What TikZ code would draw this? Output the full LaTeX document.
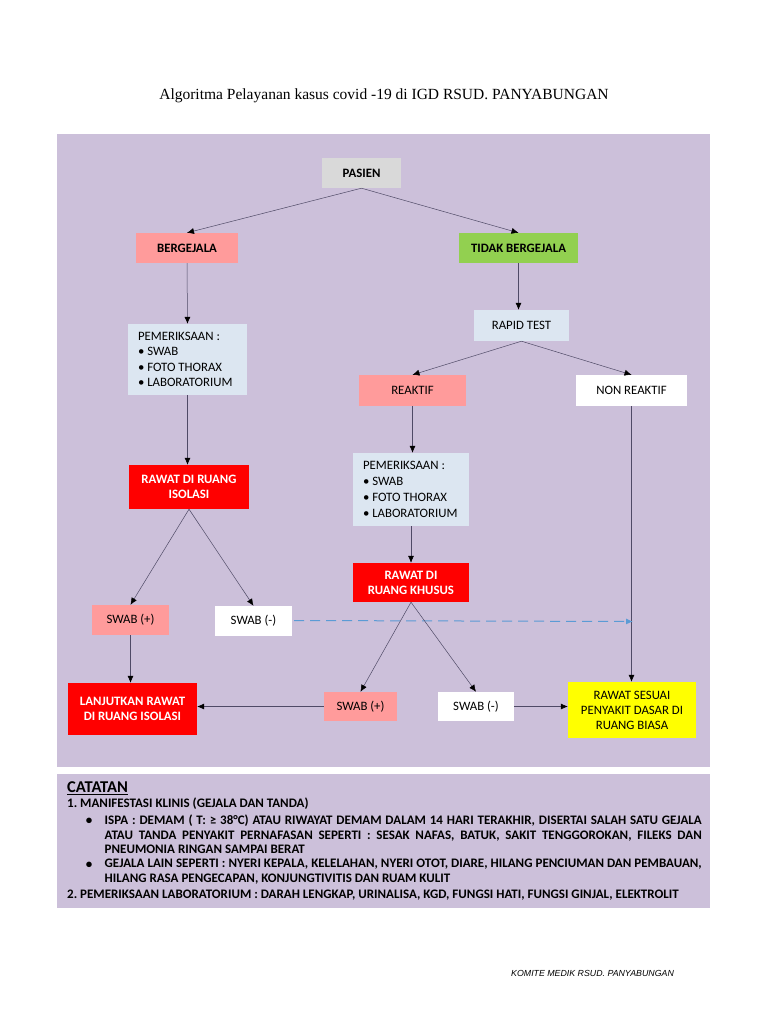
\documentclass[tikz,border=0pt]{standalone}
\usepackage{fontspec}
\setmainfont{Carlito}
\newfontfamily\titlefont{Liberation Serif}
\newfontfamily\footfont{Liberation Sans}
\usetikzlibrary{arrows.meta}
\definecolor{panel}{HTML}{CCC0DA}
\definecolor{pinkbox}{HTML}{FF9B9B}
\definecolor{greenbox}{HTML}{92D050}
\definecolor{greybox}{HTML}{D9D9D9}
\definecolor{bluebox}{HTML}{DCE6F1}
\definecolor{redbox}{HTML}{FF0000}
\definecolor{yellowbox}{HTML}{FFFF00}
\definecolor{linec}{HTML}{4F4A66}
\definecolor{dashc}{HTML}{5B9BD5}
\hyphenpenalty=10000
\exhyphenpenalty=10000
\frenchspacing
\begin{document}
\begin{tikzpicture}[x=1pt,y=-1pt,
  box/.style={inner sep=0pt, align=center, font=\fontsize{12.8}{15}\selectfont},
  bbox/.style={box, font=\bfseries\fontsize{12.8}{15}\selectfont},
  redb/.style={bbox, fill=redbox, text=white},
  arr/.style={draw=linec, line width=0.5pt, -{Latex[length=7pt,width=6pt,color=black]}},
  note/.style={inner sep=0pt, font=\bfseries\fontsize{13}{14.8}\selectfont},
]
\useasboundingbox (0,0) rectangle (768,1024);
\fill[white] (0,0) rectangle (768,1024);
\node[font=\titlefont\fontsize{15.5}{18}\selectfont] (title) at (384,96) {Algoritma Pelayanan kasus covid -19 di IGD RSUD. PANYABUNGAN};
\fill[panel] (57,134) rectangle (710,767);
\fill[panel] (57,774) rectangle (710,908);

% nodes
\node[bbox, fill=greybox, minimum width=79, minimum height=30] (pasien) at (361.5,173) {PASIEN};
\node[bbox, fill=pinkbox, minimum width=102, minimum height=30] (berg) at (187,248) {BERGEJALA};
\node[bbox, fill=greenbox, minimum width=119, minimum height=30] (tidak) at (518.5,248) {TIDAK BERGEJALA};
\node[box, fill=bluebox, minimum width=119, minimum height=71, align=flush left, text width=99, inner xsep=10pt, font=\fontsize{12.8}{15.3}\selectfont] (pem1) at (187.5,359.5) {PEMERIKSAAN :\\ \textbullet\ SWAB\\ \textbullet\ FOTO THORAX\\ \textbullet\ LABORATORIUM};
\node[box, fill=bluebox, minimum width=95, minimum height=31] (rapid) at (521.5,325.5) {RAPID TEST};
\node[box, fill=pinkbox, minimum width=107, minimum height=31] (reak) at (412.5,390.5) {REAKTIF};
\node[box, fill=white, minimum width=111, minimum height=31] (nonr) at (631.5,390.5) {NON REAKTIF};
\node[redb, minimum width=120, minimum height=44] (iso) at (189,487) {RAWAT DI RUANG\\ISOLASI};
\node[box, fill=bluebox, minimum width=116, minimum height=73, align=flush left, text width=96, inner xsep=10pt, font=\fontsize{12.8}{16}\selectfont] (pem2) at (411,489.5) {PEMERIKSAAN :\\ \textbullet\ SWAB\\ \textbullet\ FOTO THORAX\\ \textbullet\ LABORATORIUM};
\node[redb, minimum width=116, minimum height=39] (khusus) at (411,582.5) {RAWAT DI\\RUANG KHUSUS};
\node[box, fill=pinkbox, minimum width=77, minimum height=30] (sp1) at (130.5,620) {SWAB (+)};
\node[box, fill=white, minimum width=77, minimum height=30] (sm1) at (253.5,621) {SWAB (-)};
\node[redb, minimum width=129, minimum height=52] (lanj) at (132.5,709) {LANJUTKAN RAWAT\\DI RUANG ISOLASI};
\node[box, fill=pinkbox, minimum width=73, minimum height=29] (sp2) at (360.5,706.5) {SWAB (+)};
\node[box, fill=white, minimum width=76, minimum height=29] (sm2) at (476,706.5) {SWAB (-)};
\node[box, fill=yellowbox, minimum width=128, minimum height=56] (ses) at (632,710) {RAWAT SESUAI\\PENYAKIT DASAR DI\\RUANG BIASA};
\coordinate (dashend) at (633,621.5);

% connectors
\draw[arr] (pasien.south) -- (berg.north);
\draw[arr] (pasien.south) -- (tidak.north);
\draw[arr] (berg.south) -- (pem1.north);
\draw[arr] (tidak.south) -- (tidak.south |- rapid.north);
\draw[arr] (rapid.south) -- (reak.north);
\draw[arr] (rapid.south) -- (nonr.north);
\draw[arr] (pem1.south) -- (pem1.south |- iso.north);
\draw[arr] (reak.south) -- (reak.south |- pem2.north);
\draw[arr] (nonr.south) -- (nonr.south |- ses.north);
\draw[arr] (pem2.south) -- (khusus.north);
\draw[arr] (iso.south) -- (sp1.north);
\draw[arr] (iso.south) -- (sm1.north);
\draw[arr] (sp1.south) -- (sp1.south |- lanj.north);
\draw[draw=dashc, line width=1pt, dash pattern=on 10pt off 6pt, -{Latex[length=7pt,width=6pt]}] ([xshift=2pt,yshift=0.5pt]sm1.east) -- (dashend);
\draw[arr] (khusus.south) -- (sp2.north);
\draw[arr] (khusus.south) -- (sm2.north);
\draw[arr] (sp2.west) -- (lanj.east |- sp2.west);
\draw[arr] (sm2.east) -- (ses.west |- sm2.east);

% catatan
\node[anchor=west, inner sep=0pt, font=\bfseries\fontsize{16.5}{18}\selectfont] (cat) at (67,788) {\underline{CATATAN}};
\node[note, anchor=west] (c1) at (67,804) {1. MANIFESTASI KLINIS (GEJALA DAN TANDA)};
\node[note] (b1) at (89,821) {\textbullet};
\node[note, anchor=north west, text width=597, align=justify] (t1) at (104.5,814.5) {ISPA : DEMAM ( T: ≥ 38°C) ATAU RIWAYAT DEMAM DALAM 14 HARI TERAKHIR, DISERTAI SALAH SATU GEJALA\linebreak ATAU TANDA PENYAKIT PERNAFASAN SEPERTI : SESAK NAFAS, BATUK, SAKIT TENGGOROKAN, FILEKS DAN\linebreak PNEUMONIA RINGAN SAMPAI BERAT};
\node[note] (b2) at (89,865) {\textbullet};
\node[note, anchor=north west, text width=597, align=justify] (t2) at (104.5,858.5) {GEJALA LAIN SEPERTI : NYERI KEPALA, KELELAHAN, NYERI OTOT, DIARE, HILANG PENCIUMAN DAN PEMBAUAN,\linebreak HILANG RASA PENGECAPAN, KONJUNGTIVITIS DAN RUAM KULIT};
\node[note, anchor=west] (c2) at (67,895) {2. PEMERIKSAAN LABORATORIUM : DARAH LENGKAP, URINALISA, KGD, FUNGSI HATI, FUNGSI GINJAL, ELEKTROLIT};

\node[anchor=west, inner sep=0pt, font=\footfont\itshape\fontsize{8.8}{10}\selectfont] (foot) at (511,973) {KOMITE MEDIK RSUD. PANYABUNGAN};
\end{tikzpicture}
\end{document}
